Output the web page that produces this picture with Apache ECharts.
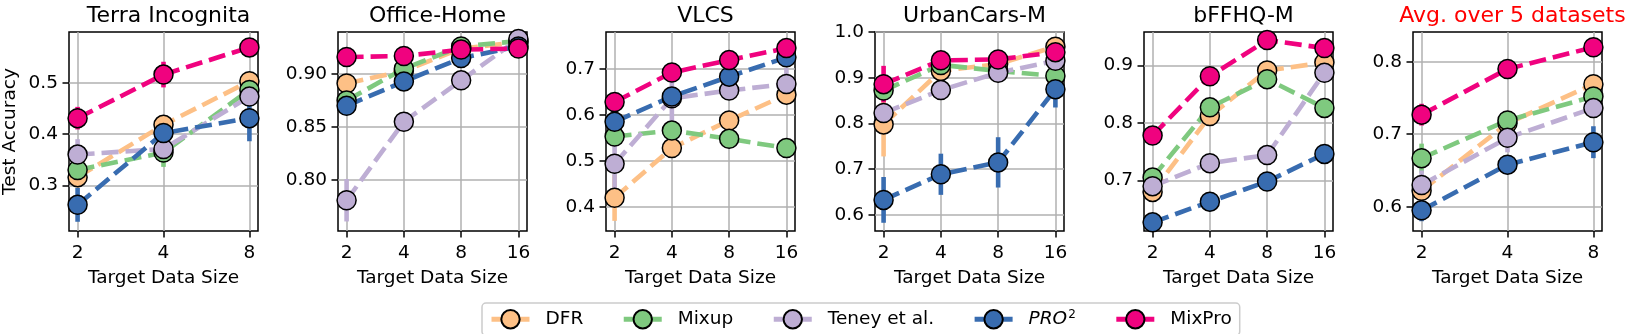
<!DOCTYPE html>
<html>
<head>
<meta charset="utf-8">
<script src="https://cdn.jsdelivr.net/npm/echarts@6/dist/echarts.min.js"></script>
<style>
html,body{margin:0;padding:0;background:#fff;}
#chart{width:1626px;height:334px;}
</style>
</head>
<body>
<div id="chart"></div>
<script>
var fontName = 'DejaVu Sans';
var methods = ['DFR', 'Mixup', 'Teney et al.', 'PRO2', 'MixPro'];
var colors = ['#fdc086', '#7fc97f', '#beaed4', '#386cb0', '#f0027f'];
var titles = ['Terra Incognita', 'Office-Home', 'VLCS', 'UrbanCars-M', 'bFFHQ-M', 'Avg. over 5 datasets'];

// target data size
var sizes3 = [2, 4, 8];
var sizes4 = [2, 4, 8, 16];

// accuracy, rows in method order: DFR, Mixup, Teney, PRO2, MixPro
var terraAcc = [
	[0.316, 0.418, 0.503],
	[0.330, 0.364, 0.486],
	[0.360, 0.371, 0.473],
	[0.262, 0.402, 0.431],
	[0.431, 0.516, 0.569]
];
var terraErr = [
	[0.02, 0.01, 0.01],
	[0.01, 0.028, 0.02],
	[0.03, 0.01, 0.01],
	[0.033, 0.01, 0.045],
	[0.022, 0.025, 0.005]
];
var officeAcc = [
	[0.891, 0.903, 0.924, 0.930],
	[0.875, 0.905, 0.926, 0.931],
	[0.781, 0.855, 0.894, 0.933],
	[0.870, 0.893, 0.915, 0.926],
	[0.916, 0.917, 0.923, 0.924]
];
var officeErr = [
	[0.004, 0.003, 0.003, 0.002],
	[0.004, 0.003, 0.003, 0.002],
	[0.02, 0.004, 0.004, 0.003],
	[0.004, 0.003, 0.003, 0.002],
	[0.003, 0.003, 0.002, 0.002]
];
var vlcsAcc = [
	[0.420, 0.528, 0.588, 0.644],
	[0.553, 0.566, 0.548, 0.528],
	[0.494, 0.636, 0.653, 0.667],
	[0.585, 0.640, 0.683, 0.725],
	[0.628, 0.692, 0.719, 0.745]
];
var vlcsErr = [
	[0.05, 0.01, 0.01, 0.01],
	[0.02, 0.01, 0.01, 0.01],
	[0.055, 0.07, 0.01, 0.035],
	[0.01, 0.01, 0.01, 0.01],
	[0.01, 0.01, 0.01, 0.01]
];
var urbanAcc = [
	[0.798, 0.915, 0.930, 0.968],
	[0.872, 0.928, 0.915, 0.904],
	[0.823, 0.873, 0.911, 0.937],
	[0.633, 0.689, 0.715, 0.875],
	[0.886, 0.938, 0.940, 0.956]
];
var urbanErr = [
	[0.07, 0.01, 0.01, 0.01],
	[0.02, 0.01, 0.01, 0.01],
	[0.02, 0.01, 0.02, 0.01],
	[0.05, 0.045, 0.055, 0.04],
	[0.04, 0.01, 0.02, 0.01]
];
var bffhqAcc = [
	[0.680, 0.812, 0.891, 0.905],
	[0.705, 0.827, 0.876, 0.826],
	[0.690, 0.730, 0.744, 0.887],
	[0.627, 0.663, 0.698, 0.746],
	[0.778, 0.881, 0.944, 0.930]
];
var bffhqErr = [
	[0.005, 0.005, 0.005, 0.005],
	[0.005, 0.005, 0.005, 0.005],
	[0.005, 0.005, 0.005, 0.005],
	[0.005, 0.005, 0.005, 0.005],
	[0.005, 0.005, 0.005, 0.005]
];
var avgAcc = [
	[0.622, 0.715, 0.769],
	[0.667, 0.719, 0.752],
	[0.630, 0.695, 0.736],
	[0.595, 0.658, 0.689],
	[0.727, 0.790, 0.820]
];
var avgErr = [
	[0.01, 0.01, 0.01],
	[0.02, 0.01, 0.01],
	[0.02, 0.02, 0.01],
	[0.015, 0.01, 0.022],
	[0.015, 0.005, 0.005]
];

// y axis ticks and ranges
var yTicks = [
	[0.3, 0.4, 0.5],
	[0.80, 0.85, 0.90],
	[0.4, 0.5, 0.6, 0.7],
	[0.6, 0.7, 0.8, 0.9, 1.0],
	[0.7, 0.8, 0.9],
	[0.6, 0.7, 0.8]
];
var yDecimals = [1, 2, 1, 1, 1, 1];
var yMins = [0.211, 0.752, 0.348, 0.565, 0.612, 0.5665];
var yMaxs = [0.599, 0.9396, 0.780, 1.0, 0.958, 0.841];

var panelSizes = [sizes3, sizes4, sizes4, sizes4, sizes4, sizes3];
var panelAcc = [terraAcc, officeAcc, vlcsAcc, urbanAcc, bffhqAcc, avgAcc];
var panelErr = [terraErr, officeErr, vlcsErr, urbanErr, bffhqErr, avgErr];

// layout
var gridLefts = [69, 338, 606, 875, 1144, 1413];
var gridWidth = 189;
var gridTop = 32;
var gridHeight = 199;
var fs = 18.5;

var chart = echarts.init(document.getElementById('chart'));

var grids = [], xAxes = [], yAxes = [], titleList = [], series = [];

function errRender(color) {
	return function (params, api) {
		var x = api.value(0), y = api.value(1), e = api.value(2);
		var p1 = api.coord([x, y + e]);
		var p2 = api.coord([x, y - e]);
		return {
			type: 'line',
			shape: { x1: p1[0], y1: p1[1], x2: p2[0], y2: p2[1] },
			style: { stroke: color, lineWidth: 4.6 }
		};
	};
}

for (var i = 0; i < 6; i++) {
	var sizes = panelSizes[i];
	var xs = sizes.map(function (s) { return Math.log2(s); });
	var pad = 0.05 * (xs[xs.length - 1] - xs[0]);
	var dec = yDecimals[i];

	grids.push({
		left: gridLefts[i], top: gridTop, width: gridWidth, height: gridHeight,
		show: true, borderColor: '#000', borderWidth: 1.5, backgroundColor: 'transparent'
	});
	titleList.push({
		text: titles[i],
		left: gridLefts[i] + gridWidth / 2,
		top: 0,
		textAlign: 'center',
		textStyle: { fontFamily: fontName, fontSize: 22, fontWeight: 'normal', color: i == 5 ? '#ff0000' : '#000' }
	});
	xAxes.push({
		type: 'value', gridIndex: i,
		min: xs[0] - pad, max: xs[xs.length - 1] + pad,
		axisLine: { show: false },
		axisTick: { show: true, length: 6.5, customValues: xs, lineStyle: { color: '#000', width: 1.5 } },
		axisLabel: {
			customValues: xs, margin: 13, color: '#000', fontFamily: fontName, fontSize: fs,
			formatter: function (v) { return String(Math.round(Math.pow(2, v))); }
		},
		splitLine: { show: true, lineStyle: { color: '#b0b0b0', width: 1.5 } },
		name: 'Target Data Size', nameLocation: 'middle', nameGap: 38,
		nameTextStyle: { fontFamily: fontName, fontSize: fs, color: '#000' }
	});
	yAxes.push({
		type: 'value', gridIndex: i,
		min: yMins[i], max: yMaxs[i],
		axisLine: { show: false },
		axisTick: { show: true, length: 6.5, customValues: yTicks[i], lineStyle: { color: '#000', width: 1.5 } },
		axisLabel: {
			customValues: yTicks[i], margin: 11, color: '#000', fontFamily: fontName, fontSize: fs,
			formatter: (function (d) { return function (v) { return v.toFixed(d); }; })(dec)
		},
		splitLine: { show: true, lineStyle: { color: '#b0b0b0', width: 1.5 } },
		name: i == 0 ? 'Test Accuracy' : '', nameLocation: 'middle', nameGap: 49,
		nameTextStyle: { fontFamily: fontName, fontSize: fs, color: '#000' }
	});

	for (var m = 0; m < methods.length; m++) {
		var lineData = [], errData = [];
		for (var k = 0; k < sizes.length; k++) {
			lineData.push([xs[k], panelAcc[i][m][k]]);
			errData.push([xs[k], panelAcc[i][m][k], panelErr[i][m][k]]);
		}
		series.push({
			type: 'custom', name: methods[m] + ' err',
			xAxisIndex: i, yAxisIndex: i,
			renderItem: errRender(colors[m]),
			encode: { x: 0, y: 1 },
			data: errData,
			silent: true
		});
		series.push({
			type: 'line', name: methods[m],
			xAxisIndex: i, yAxisIndex: i,
			data: lineData,
			symbol: 'circle', symbolSize: 19,
			lineStyle: { color: colors[m], width: 4.6, type: [17, 7] },
			itemStyle: { color: colors[m], borderColor: '#000', borderWidth: 1.5 },
			emphasis: { disabled: true },
			silent: true
		});
	}
}

var option = {
	animation: false,
	backgroundColor: '#fff',
	title: titleList,
	grid: grids,
	xAxis: xAxes,
	yAxis: yAxes,
	legend: {
		data: methods,
		left: 482, top: 303,
		itemWidth: 38, itemHeight: 23, itemGap: 38,
		padding: [6, 8, 6, 7],
		borderColor: '#cccccc', borderWidth: 1.5, borderRadius: 4,
		lineStyle: { type: 'solid', width: 5 },
		formatter: function (name) {
			return name == 'PRO2' ? '{i|PRO}{s|2}' : name;
		},
		textStyle: {
			fontFamily: fontName, fontSize: fs, color: '#000', padding: [0, 0, 0, 11],
			rich: {
				i: { fontFamily: fontName, fontSize: fs, fontStyle: 'italic', color: '#000' },
				s: { fontFamily: fontName, fontSize: 12, color: '#000', verticalAlign: 'top', padding: [0, 0, 8, 1] }
			}
		}
	},
	series: series
};
chart.setOption(option);
</script>
</body>
</html>
